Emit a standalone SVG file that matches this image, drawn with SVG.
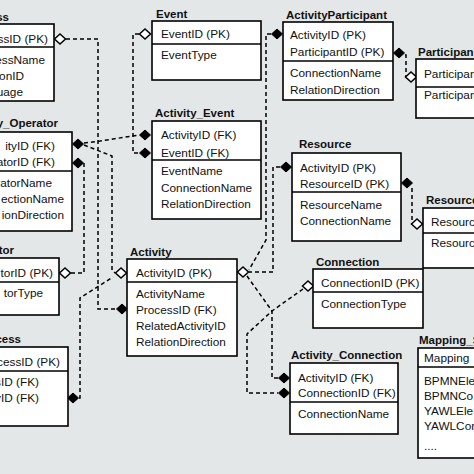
<svg xmlns="http://www.w3.org/2000/svg" xmlns:xlink="http://www.w3.org/1999/xlink" width="474" height="474" viewBox="0 0 474 474">
<style>
.box{fill:#fff;stroke:#000;stroke-width:1.6}
.dv{stroke:#000;stroke-width:1.6}
text{font-family:"Liberation Sans",Arial,sans-serif;font-size:11.8px;fill:#111}
.h{font-weight:bold;font-size:11.5px}
.e{text-anchor:end}
.c{fill:none;stroke:#000;stroke-width:1.5;stroke-dasharray:4 3}
</style>
<defs>
<path id="dB" d="M-5.5,0 L0,-5 L5.5,0 L0,5 Z" fill="#000" stroke="#000" stroke-width="1"/>
<path id="dW" d="M-5.5,0 L0,-5 L5.5,0 L0,5 Z" fill="#fff" stroke="#000" stroke-width="1.5"/>
</defs>
<rect width="474" height="474" fill="#e4e7e7"/>

<g id="connectors">
<path class="c" d="M66,39 H98 V309 H116"/>
<path class="c" d="M139,34 H133 V153 H139"/>
<path class="c" d="M84,143 L100,141 L139,135"/>
<path class="c" d="M84,145 L112,156 V270 L115,273"/>
<path class="c" d="M84,163 V273 H71"/>
<path class="c" d="M79,398 H80 V298 L113,277"/>
<path class="c" d="M271,34 H266 V240 L249,270"/>
<path class="c" d="M280,167 H273 V272 H249"/>
<path class="c" d="M405,55 H406 V77 H405"/>
<path class="c" d="M412,188 V224 H411"/>
<path class="c" d="M247,276 L272,311 V378 H278"/>
<path class="c" d="M303,289 L272,311 L247,334 V393 H278"/>
</g>

<g id="diamonds">
<use xlink:href="#dW" x="60" y="39"/>
<use xlink:href="#dW" x="145" y="34"/>
<use xlink:href="#dB" x="277" y="34"/>
<use xlink:href="#dB" x="399" y="53"/>
<use xlink:href="#dW" x="411" y="77"/>
<use xlink:href="#dB" x="78" y="144"/>
<use xlink:href="#dB" x="78" y="163"/>
<use xlink:href="#dB" x="145" y="135"/>
<use xlink:href="#dB" x="145" y="153"/>
<use xlink:href="#dB" x="286" y="167"/>
<use xlink:href="#dB" x="407" y="183"/>
<use xlink:href="#dW" x="417" y="224"/>
<use xlink:href="#dW" x="65" y="273"/>
<use xlink:href="#dW" x="121" y="273"/>
<use xlink:href="#dB" x="122" y="309"/>
<use xlink:href="#dW" x="243" y="272"/>
<use xlink:href="#dW" x="308" y="286"/>
<use xlink:href="#dB" x="284" y="378"/>
<use xlink:href="#dB" x="284" y="393"/>
<use xlink:href="#dB" x="73" y="398"/>
</g>

<g id="process">
<text class="h e" x="9" y="21">ss</text>
<rect class="box" x="-3" y="24" width="57" height="77"/>
<line class="dv" x1="-3" y1="47" x2="54" y2="47"/>
<text class="e" x="48" y="43">essID (PK)</text>
<text class="e" x="45" y="64">essName</text>
<text class="e" x="24" y="80">onID</text>
<text class="e" x="23" y="96">uage</text>
</g>

<g id="event">
<text class="h" x="156" y="18">Event</text>
<rect class="box" x="152" y="21" width="109" height="59"/>
<line class="dv" x1="152" y1="44" x2="261" y2="44"/>
<text x="161" y="38">EventID (PK)</text>
<text x="161" y="59">EventType</text>
</g>

<g id="activityParticipant">
<text class="h" x="286" y="19">ActivityParticipant</text>
<rect class="box" x="283" y="22" width="110" height="78"/>
<line class="dv" x1="283" y1="61" x2="393" y2="61"/>
<text x="290" y="39">ActivityID (PK)</text>
<text x="290" y="56">ParticipantID (PK)</text>
<text x="290" y="77">ConnectionName</text>
<text x="290" y="94">RelationDirection</text>
</g>

<g id="participant">
<text class="h" x="418" y="56">Participan</text>
<rect class="box" x="416" y="59" width="66" height="59"/>
<line class="dv" x1="416" y1="87" x2="482" y2="87"/>
<text x="424" y="78">Participan</text>
<text x="424" y="99">Participan</text>
</g>

<g id="activityOperator">
<text class="h e" x="58" y="127">y_Operator</text>
<rect class="box" x="-3" y="132" width="75" height="99"/>
<line class="dv" x1="-3" y1="171" x2="72" y2="171"/>
<text class="e" x="55" y="150">ityID (FK)</text>
<text class="e" x="55" y="166">ratorID (FK)</text>
<text class="e" x="52" y="187">ratorName</text>
<text class="e" x="64" y="203">ectionName</text>
<text class="e" x="64" y="219">ionDirection</text>
</g>

<g id="activityEvent">
<text class="h" x="155" y="117">Activity_Event</text>
<rect class="box" x="152" y="121" width="109" height="98"/>
<line class="dv" x1="152" y1="160" x2="261" y2="160"/>
<text x="161" y="139">ActivityID (FK)</text>
<text x="161" y="157">EventID (FK)</text>
<text x="161" y="175">EventName</text>
<text x="161" y="192">ConnectionName</text>
<text x="161" y="208">RelationDirection</text>
</g>

<g id="resource">
<text class="h" x="299" y="148">Resource</text>
<rect class="box" x="292" y="153" width="109" height="88"/>
<line class="dv" x1="292" y1="192" x2="401" y2="192"/>
<text x="300" y="172">ActivityID (PK)</text>
<text x="300" y="188">ResourceID (PK)</text>
<text x="300" y="209">ResourceName</text>
<text x="300" y="225">ConnectionName</text>
</g>

<g id="resource2">
<text class="h" x="426" y="204">Resource</text>
<rect class="box" x="423" y="208" width="60" height="60"/>
<line class="dv" x1="423" y1="233" x2="483" y2="233"/>
<text x="431" y="226">Resourc</text>
<text x="431" y="247">Resourc</text>
</g>

<g id="operator">
<text class="h e" x="14" y="254">tor</text>
<rect class="box" x="-3" y="258" width="62" height="57"/>
<line class="dv" x1="-3" y1="282" x2="59" y2="282"/>
<text class="e" x="53" y="277">torID (PK)</text>
<text class="e" x="43" y="297">torType</text>
</g>

<g id="activity">
<text class="h" x="130" y="256">Activity</text>
<rect class="box" x="127" y="259" width="110" height="97"/>
<line class="dv" x1="127" y1="282" x2="237" y2="282"/>
<text x="136" y="277">ActivityID (PK)</text>
<text x="136" y="298">ActivityName</text>
<text x="136" y="314">ProcessID (FK)</text>
<text x="136" y="330">RelatedActivityID</text>
<text x="136" y="346">RelationDirection</text>
</g>

<g id="connection">
<text class="h" x="316" y="266">Connection</text>
<rect class="box" x="313" y="269" width="110" height="59"/>
<line class="dv" x1="313" y1="292" x2="423" y2="292"/>
<text x="321" y="287">ConnectionID (PK)</text>
<text x="321" y="308">ConnectionType</text>
</g>

<g id="subprocess">
<text class="h e" x="21" y="343">ocess</text>
<rect class="box" x="-3" y="347" width="71" height="79"/>
<line class="dv" x1="-3" y1="371" x2="68" y2="371"/>
<text class="e" x="60" y="366">ocessID (PK)</text>
<text class="e" x="39" y="386">sID (FK)</text>
<text class="e" x="39" y="402">yID (FK)</text>
</g>

<g id="activityConnection">
<text class="h" x="291" y="359">Activity_Connection</text>
<rect class="box" x="290" y="363" width="108" height="71"/>
<line class="dv" x1="290" y1="402" x2="398" y2="402"/>
<text x="298" y="382">ActivityID (FK)</text>
<text x="298" y="397">ConnectionID (FK)</text>
<text x="298" y="418">ConnectionName</text>
</g>

<g id="mapping">
<text class="h" x="419" y="344">Mapping_S</text>
<rect class="box" x="418" y="348" width="64" height="110"/>
<line class="dv" x1="418" y1="367" x2="482" y2="367"/>
<text x="424" y="362">Mapping</text>
<text x="424" y="385">BPMNEle</text>
<text x="424" y="400">BPMNCo</text>
<text x="424" y="415">YAWLEle</text>
<text x="424" y="430">YAWLCon</text>
<text x="424" y="450">....</text>
</g>
</svg>
